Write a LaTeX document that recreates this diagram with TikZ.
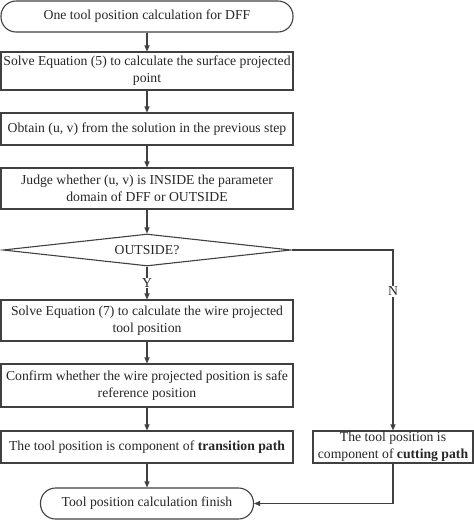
\documentclass[tikz,border=0pt]{standalone}
\usepackage{fontspec}
\setmainfont{Liberation Serif}
\usetikzlibrary{shapes.geometric,arrows.meta}
\begin{document}
\begin{tikzpicture}[x=1pt,y=-1pt,
  every node/.style={font=\fontsize{13.7}{17}\selectfont, text=black!85},
  box/.style={draw=black!75, line width=1.1pt, rectangle, inner sep=0pt, minimum width=292pt, align=center},
  term/.style={draw=black!75, line width=1.1pt, rectangle, rounded corners=15pt, inner sep=0pt, minimum height=31pt, align=center},
  dec/.style={draw=black!75, line width=1.1pt, diamond, aspect=9, inner sep=0pt, minimum width=288pt, minimum height=32pt},
  arr/.style={draw=black!75, line width=1.1pt, -{Triangle[length=6pt,width=5pt]}},
  lbl/.style={font=\fontsize{13.7}{17}\selectfont}]
\useasboundingbox (0,0) rectangle (474,520);
\node[term, minimum width=292pt] (start) at (147,16.5) {One tool position calculation for DFF};
\node[box, minimum height=38pt] (b2) at (147,71) {Solve Equation (5) to calculate the surface projected\\point};
\node[box, minimum height=32pt] (b3) at (147,129) {Obtain (u, v) from the solution in the previous step};
\node[box, minimum height=41pt] (b4) at (147,188.5) {Judge whether (u, v) is INSIDE the parameter\\domain of DFF or OUTSIDE};
\node[dec] (d) at (147,250) {OUTSIDE?};
\node[box, minimum height=41pt] (b5) at (147,320.5) {Solve Equation (7) to calculate the wire projected\\tool position};
\node[box, minimum height=43pt] (b6) at (147,385.5) {Confirm whether the wire projected position is safe\\reference position};
\node[box, minimum height=32pt] (b7) at (147,447) {The tool position is component of \textbf{transition path}};
\node[box, minimum width=160pt, minimum height=32pt] (r) at (393,447) {The tool position is\\component of \textbf{cutting path}};
\node[term, minimum width=213pt] (end) at (147,503.5) {Tool position calculation finish};
\coordinate (c1) at (393,250);
\coordinate (c2) at (393,503.5);
\draw[arr] (start) -- (b2);
\draw[arr] (b2) -- (b3);
\draw[arr] (b3) -- (b4);
\draw[arr] (b4) -- (d);
\draw[arr] (d) -- node[lbl, fill=white, inner sep=1pt] {Y} (b5);
\draw[arr] (b5) -- (b6);
\draw[arr] (b6) -- (b7);
\draw[arr] (b7) -- (end);
\draw[arr] (d.east) -- (c1) -- node[lbl, fill=white, inner sep=1pt, pos=0.23] {N} (r);
\draw[arr] (r) -- (c2) -- (end);
\end{tikzpicture}
\end{document}
